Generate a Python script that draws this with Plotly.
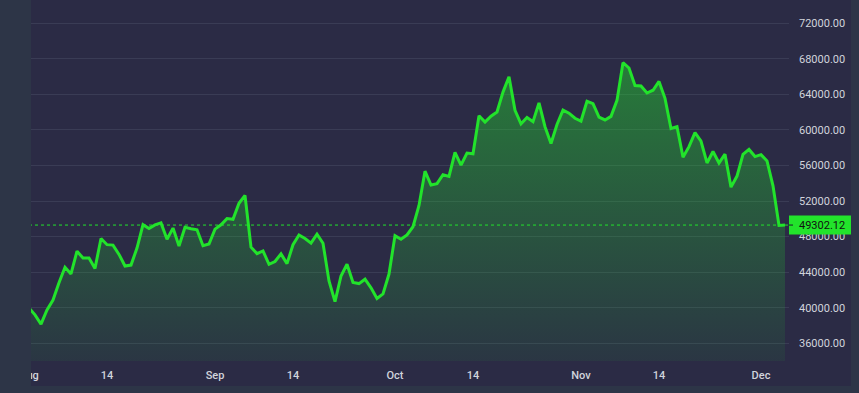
import plotly.graph_objects as go
import pandas as pd

# ---- data (daily closes) ----
start_date = "2021-07-31"
prices = [
    41626, 39974, 39201, 38152, 39747, 40869, 42816, 44555, 43798, 46366,
    45585, 45593, 44428, 47793, 47096, 47047, 46004, 44695, 44802, 46717,
    49339, 48905, 49321, 49546, 47706, 48960, 46942, 49058, 48897, 48767,
    46970, 47167, 48847, 49327, 50025, 49944, 51753, 52633, 46811, 46091,
    46391, 44883, 45201, 46063, 44963, 47092, 48176, 47783, 47268, 48278,
    47261, 43012, 40694, 43575, 44896, 42840, 42717, 43208, 42235, 41034,
    41564, 43790, 48116, 47711, 48199, 49112, 51514, 55361, 53805, 53967,
    54968, 54771, 57484, 56041, 57401, 57321, 61593, 60892, 61553, 62026,
    64261, 65992, 62210, 60692, 61393, 60930, 63039, 60363, 58482, 60622,
    62228, 61888, 61318, 61004, 63226, 62970, 61453, 61126, 61528, 63327,
    67566, 66972, 64996, 64950, 64155, 64470, 65466, 63557, 60161, 60368,
    56942, 58119, 59697, 58730, 56289, 57570, 56281, 57274, 53570, 54815,
    57248, 57807, 57006, 57229, 56509, 53714, 49253, 49302.12,
]
dates = pd.date_range(start_date, periods=len(prices), freq="D")
last_price = 49302.12

tick_dates = ["2021-08-01", "2021-08-14", "2021-09-01", "2021-09-14", "2021-10-01",
              "2021-10-14", "2021-11-01", "2021-11-14", "2021-12-01"]
tick_text = ["Aug", "14", "Sep", "14", "Oct", "14", "Nov", "14", "Dec"]
y_ticks = [36000, 40000, 44000, 48000, 52000, 56000, 60000, 64000, 68000, 72000]

# ---- styling ----
W, H = 859, 393
L, R, T, B = 23, 70, 0, 32
NAVY = "#2b2b45"
SLATE = "#2d3547"
GREEN = "#22e32b"
TXT = "#d1d4dc"
y_lo, y_hi = 34009, 74621
x_lo = pd.Timestamp("2021-07-31")
x_hi = x_lo + pd.Timedelta(hours=24 * 127 + 16)

fig = go.Figure()
fig.add_trace(go.Scatter(
    x=dates, y=prices, mode="lines",
    line=dict(color=GREEN, width=3),
    fill="tozeroy",
    fillgradient=dict(
        type="vertical",
        colorscale=[[0, "rgba(34,227,43,0.06)"], [1, "rgba(34,227,43,0.44)"]],
        start=y_lo, stop=68000,
    ),
    hoverinfo="skip", showlegend=False,
))

pw = W - L - R
ph = H - T - B
def px_x(p):
    return (p - L) / pw
def px_y(p):
    return 1 - (p - T) / ph

shapes = [
    # navy chart panel
    dict(type="rect", xref="paper", yref="paper", x0=px_x(31), x1=px_x(851),
         y0=px_y(386), y1=px_y(0), fillcolor=NAVY, line=dict(width=0), layer="below"),
    # last price dashed line
    dict(type="line", xref="paper", yref="y", x0=0, x1=1, y0=last_price, y1=last_price,
         line=dict(color=GREEN, width=1, dash="3px,3px"), layer="above"),
    # left slate strip (clips the left edge)
    dict(type="rect", xref="paper", yref="paper", x0=px_x(-2), x1=px_x(31),
         y0=px_y(H + 2), y1=px_y(-2), fillcolor=SLATE, line=dict(width=0), layer="above"),
]
# price label box
ppx = (y_hi - last_price) / (y_hi - y_lo) * ph
shapes.append(dict(type="rect", xref="paper", yref="paper", x0=px_x(789), x1=px_x(851),
                   y0=px_y(ppx + 9.5), y1=px_y(ppx - 9.5), fillcolor=GREEN,
                   line=dict(width=0), layer="above"))
shapes.append(dict(type="line", xref="paper", yref="paper", x0=px_x(789), x1=px_x(793),
                   y0=px_y(ppx), y1=px_y(ppx), line=dict(color="#1a1a2a", width=1),
                   layer="above"))

fig.update_layout(
    width=W, height=H,
    margin=dict(l=L, r=R, t=T, b=B, pad=0),
    paper_bgcolor=SLATE, plot_bgcolor=NAVY,
    shapes=shapes,
    annotations=[dict(
        xref="paper", yref="y", x=px_x(797), y=last_price, xanchor="left", yanchor="middle",
        text=f"{last_price:.2f}", showarrow=False,
        font=dict(family="Roboto", size=11, color="#111111"),
    )],
    xaxis=dict(
        type="date", range=[x_lo, x_hi],
        tickvals=pd.to_datetime(tick_dates), ticktext=tick_text,
        showgrid=False, zeroline=False, showline=False, ticks="",
        tickfont=dict(family="Roboto", size=11, color=TXT, weight=500),
        ticklabelstandoff=6,
    ),
    yaxis=dict(
        side="right", range=[y_lo, y_hi], tickvals=y_ticks, tickformat=".2f",
        showgrid=True, gridcolor="#3a3c55", gridwidth=1, zeroline=False,
        showline=False, ticks="",
        tickfont=dict(family="Roboto", size=11, color=TXT),
        ticklabelstandoff=9,
    ),
)

fig.write_html(
    "out.html",
    config={"displayModeBar": False},
    post_script="document.body.style.margin='0';document.body.style.overflow='hidden';",
)
